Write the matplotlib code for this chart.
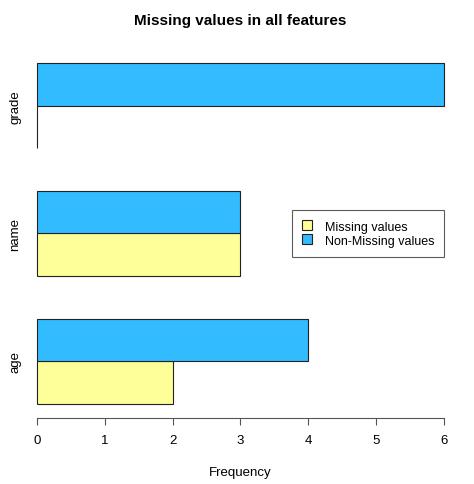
import numpy as np
import matplotlib.pyplot as plt

plt.rcParams['font.family'] = ['Liberation Sans', 'DejaVu Sans']

features = ['age', 'name', 'grade']
missing = [2, 3, 0]
non_missing = [4, 3, 6]
xticks = [0, 1, 2, 3, 4, 5, 6]

col_missing = '#FFFF99'
col_present = '#33BBFF'

fig = plt.figure(figsize=(4.74, 4.85), dpi=100)
ax = fig.add_axes([0.0437, 0.137, 0.927, 0.759])

# R-style grouped barplot: bars of height 1, one unit gap before each group
pos = np.arange(len(features)) * 3 + 1
ax.barh(pos, missing, height=1, align='edge', color=col_missing,
        edgecolor='#222222', linewidth=0.8, label='Missing values')
ax.barh(pos + 1, non_missing, height=1, align='edge', color=col_present,
        edgecolor='#222222', linewidth=0.8, label='Non-Missing values')

ax.set_xlim(-0.24, 6.24)
ax.set_ylim(0.68, 9.32)
ax.set_yticks(pos + 1)
ax.set_yticklabels(features, rotation=90, va='center', ha='center', fontsize=9.5)
ax.tick_params(axis='y', length=0, pad=4)
ax.set_xticks(xticks)
ax.tick_params(axis='x', length=5, color='#555555', labelsize=9.5, pad=7)
for s in ['top', 'right', 'left']:
    ax.spines[s].set_visible(False)
ax.spines['bottom'].set_bounds(0, 6)
ax.spines['bottom'].set_color('#555555')
ax.set_xlabel('Frequency', fontsize=9.5, labelpad=14)
ax.set_title('Missing values in all features', fontsize=11, fontweight='bold', pad=18)

leg = ax.legend(loc='center right', bbox_to_anchor=(0.978, 0.50), fontsize=9,
                frameon=True, fancybox=False, handlelength=0.8, handleheight=0.8,
                borderpad=0.8, labelspacing=0.15, handletextpad=1.0)
leg.get_frame().set_edgecolor('#333333')
leg.get_frame().set_linewidth(0.8)

fig.savefig('out.png', dpi=100)
